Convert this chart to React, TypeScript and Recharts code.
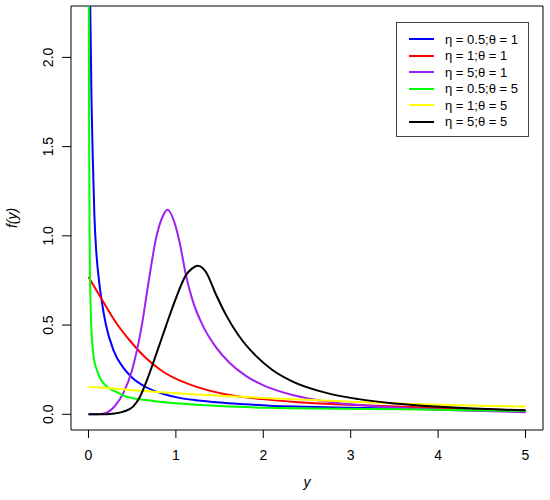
import { LineChart, Line, XAxis, YAxis, ReferenceArea, Legend } from 'recharts';

// values
const blueX = [0.02, 0.035, 0.05, 0.068, 0.088, 0.12, 0.15, 0.2, 0.285, 0.4, 0.5, 0.63, 0.85, 1.04, 1.23, 1.5, 1.8, 2.07, 2.5, 2.83, 3.3, 3.66, 4.2, 5.0];
const blueY = [2.29, 1.75, 1.42, 1.11, 0.92, 0.75, 0.64, 0.5, 0.36, 0.26, 0.205, 0.16, 0.115, 0.092, 0.079, 0.066, 0.056, 0.048, 0.042, 0.038, 0.034, 0.031, 0.025, 0.017];

const redX = [0, 0.133, 0.32, 0.47, 0.66, 0.85, 1.04, 1.23, 1.61, 1.99, 2.4, 2.83, 3.2, 3.61, 4.2, 5.0];
const redY = [0.77, 0.66, 0.51, 0.415, 0.314, 0.24, 0.19, 0.155, 0.108, 0.085, 0.068, 0.056, 0.049, 0.042, 0.033, 0.021];

const purpleX = [0, 0.1, 0.2, 0.3, 0.4, 0.5, 0.6, 0.7, 0.77, 0.85, 0.905, 0.98, 1.04, 1.115, 1.19, 1.305, 1.46, 1.61, 1.8, 1.99, 2.18, 2.5, 2.83, 3.2, 3.66, 4.2, 5.0];
const purpleY = [0, 0, 0.008, 0.045, 0.12, 0.25, 0.47, 0.78, 0.98, 1.11, 1.146, 1.08, 0.97, 0.78, 0.64, 0.5, 0.375, 0.29, 0.215, 0.165, 0.13, 0.09, 0.065, 0.048, 0.034, 0.023, 0.012];

const greenX = [0.004, 0.008, 0.015, 0.025, 0.035, 0.05, 0.07, 0.095, 0.13, 0.17, 0.24, 0.32, 0.4, 0.51, 0.74, 1.04, 1.5, 2.07, 2.83, 3.61, 4.3, 5.0];
const greenY = [2.29, 1.45, 0.87, 0.6, 0.46, 0.36, 0.29, 0.25, 0.205, 0.175, 0.145, 0.125, 0.105, 0.09, 0.075, 0.06, 0.046, 0.036, 0.031, 0.028, 0.023, 0.018];

const yellowX = [0, 0.25, 0.5, 0.75, 1, 1.5, 2, 2.5, 3, 3.5, 4, 4.5, 5];
const yellowY = [0.155, 0.146, 0.135, 0.126, 0.118, 0.104, 0.092, 0.081, 0.071, 0.062, 0.054, 0.048, 0.043];

const blackX = [0, 0.2, 0.3, 0.4, 0.51, 0.58, 0.66, 0.77, 0.89, 1.0, 1.115, 1.18, 1.25, 1.34, 1.46, 1.57, 1.72, 1.91, 2.1, 2.33, 2.72, 3.09, 3.47, 3.86, 4.23, 5.0];
const blackY = [0, 0, 0.004, 0.015, 0.043, 0.09, 0.18, 0.33, 0.5, 0.65, 0.78, 0.815, 0.833, 0.8, 0.67, 0.56, 0.44, 0.33, 0.25, 0.185, 0.12, 0.085, 0.062, 0.047, 0.036, 0.022];

const xTicks = [0, 1, 2, 3, 4, 5];
const yTicks = [0, 0.5, 1, 1.5, 2];

const zip = (xs: number[], ys: number[]) => xs.map((x, i) => ({ x, y: ys[i] }));

const series = [
  { name: 'η = 0.5;θ = 1', color: '#0000FF', data: zip(blueX, blueY) },
  { name: 'η = 1;θ = 1', color: '#FF0000', data: zip(redX, redY) },
  { name: 'η = 5;θ = 1', color: '#A020F0', data: zip(purpleX, purpleY) },
  { name: 'η = 0.5;θ = 5', color: '#00FF00', data: zip(greenX, greenY) },
  { name: 'η = 1;θ = 5', color: '#FFFF00', data: zip(yellowX, yellowY) },
  { name: 'η = 5;θ = 5', color: '#000000', data: zip(blackX, blackY) },
];

const font = '"Liberation Sans", Arial, Helvetica, sans-serif';

const YTick = ({ x, y, payload }: any) => (
  <text x={x} y={y} transform={`rotate(-90 ${x} ${y})`} textAnchor="middle" fontSize={14} fill="#000" fontFamily={font}>
    {payload.value.toFixed(1)}
  </text>
);

// keeps the order of the series, as in the original legend
const LegendBox = () => (
  <div style={{ width: 131, height: 113, border: '1px solid #444', background: '#fff', position: 'relative', fontFamily: font, fontSize: 13 }}>
    {series.map((s, i) => (
      <div key={s.name} style={{ position: 'absolute', left: 0, top: 16.5 * i + 7, height: 18, display: 'flex', alignItems: 'center' }}>
        <div style={{ marginLeft: 12, width: 25, height: 2, background: s.color }} />
        <span style={{ marginLeft: 11, whiteSpace: 'nowrap', color: '#000' }}>{s.name}</span>
      </div>
    ))}
  </div>
);

export default function App() {
  return (
    <div style={{ position: 'absolute', left: 0, top: 0, width: 550, height: 500, background: '#fff' }}>
      <LineChart width={550} height={500} margin={{ top: 6, right: 7, left: 0, bottom: 0 }} style={{ fontFamily: font }}>
        <XAxis
          type="number"
          dataKey="x"
          domain={[-0.2, 5.2]}
          ticks={xTicks}
          allowDataOverflow
          height={70}
          axisLine={false}
          tickLine={{ stroke: '#000' }}
          tickSize={8}
          tickMargin={12}
          tick={{ fontSize: 14, fill: '#000' }}
          label={{ value: 'y', position: 'insideBottom', offset: 13, fontSize: 14, fill: '#000', fontStyle: 'italic' }}
        />
        <YAxis
          type="number"
          domain={[-0.088, 2.288]}
          ticks={yTicks}
          allowDataOverflow
          width={71}
          axisLine={false}
          tickLine={{ stroke: '#000' }}
          tickSize={9}
          tickMargin={9}
          tick={<YTick />}
          label={{
            content: ({ viewBox }: any) => (
              <text
                x={17}
                y={viewBox.y + viewBox.height / 2}
                transform={`rotate(-90 17 ${viewBox.y + viewBox.height / 2})`}
                textAnchor="middle"
                fontSize={14}
                fontStyle="italic"
                fill="#000"
                fontFamily={font}
              >
                f(y)
              </text>
            ),
          }}
        />
        {series.map((s) => (
          <Line
            key={s.name}
            data={s.data}
            dataKey="y"
            name={s.name}
            type="monotone"
            stroke={s.color}
            strokeWidth={2}
            dot={false}
            activeDot={false}
            isAnimationActive={false}
          />
        ))}
        <ReferenceArea x1={-0.2} x2={5.2} y1={-0.088} y2={2.288} fill="none" stroke="#000" strokeWidth={1} ifOverflow="visible" />
        <Legend
          layout="horizontal"
          verticalAlign="middle"
          align="center"
          content={<LegendBox />}
          wrapperStyle={{ left: 396, top: 22, width: 133, height: 115 }}
        />
      </LineChart>
    </div>
  );
}
